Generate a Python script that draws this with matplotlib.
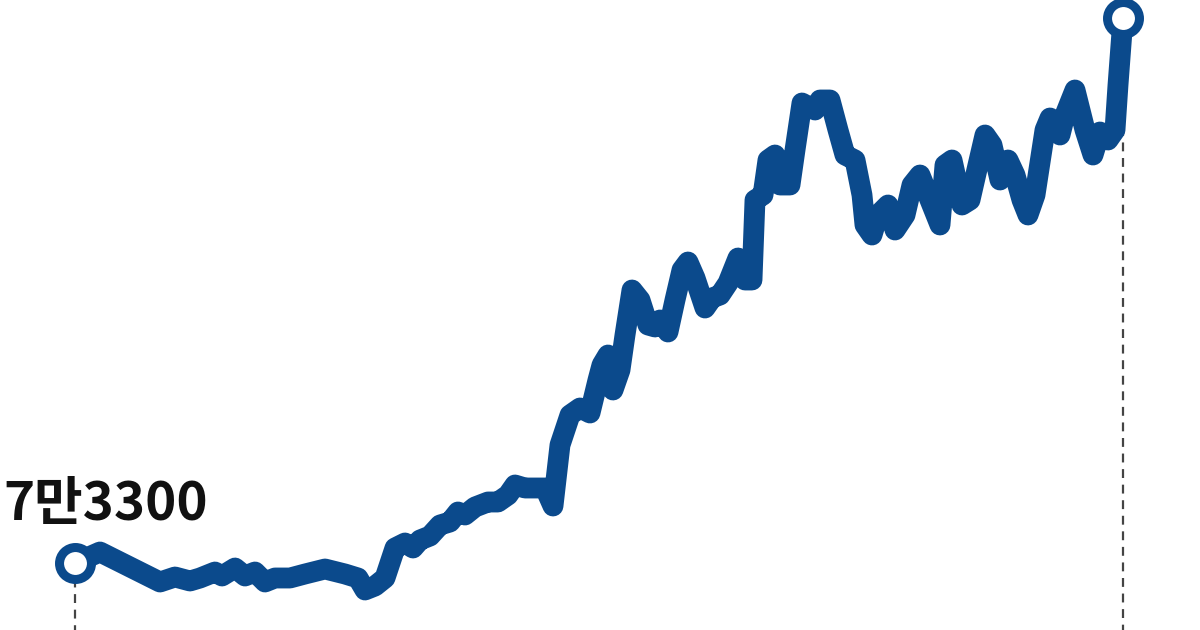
import matplotlib
matplotlib.use('Agg')
import matplotlib.pyplot as plt

plt.rcParams['font.family'] = ['Noto Sans CJK KR', 'DejaVu Sans']

# trading-day position and closing price (won)
days = [75, 100, 130, 160, 175, 190, 200, 215, 222, 235, 245, 255, 265, 275, 290,
        305, 325, 345, 358, 365, 375, 385, 395, 405, 413, 420, 430, 440, 450, 458,
        465, 475, 488, 498, 508, 515, 525, 545, 553, 560, 570, 580, 590, 598, 602,
        608, 613, 620, 625, 632, 640, 648, 655, 660, 668, 675, 682, 688, 695, 705,
        712, 720, 728, 738, 745, 752, 755, 763, 768, 775, 780, 790, 795, 802, 815,
        820, 830, 838, 845, 855, 862, 865, 872, 878, 888, 895, 905, 912, 920, 930,
        940, 945, 952, 962, 970, 978, 985, 992, 1000, 1008, 1015, 1022, 1028, 1035,
        1045, 1050, 1060, 1065, 1075, 1085, 1093, 1100, 1108, 1115, 1118, 1123]
prices = [73300, 74400, 72900, 71400, 71900, 71500, 71800, 72400, 72000, 72800,
          72000, 72400, 71400, 71800, 71800, 72200, 72700, 72200, 71800, 70600,
          71000, 71800, 74800, 75300, 74800, 75600, 76000, 77100, 77400, 78400,
          78100, 78900, 79400, 79400, 80100, 81100, 80800, 80800, 79000, 85100,
          88100, 88800, 88300, 91600, 93100, 94100, 90600, 92600, 96100, 100600,
          99600, 97100, 96900, 97600, 96400, 99600, 102600, 103400, 101800, 98800,
          99800, 100100, 101300, 103800, 101600, 101600, 109600, 110100, 113600, 114100,
          111100, 111100, 114600, 119300, 118600, 119600, 119600, 116600, 114100, 113600,
          110100, 107100, 106100, 108100, 109100, 106600, 108100, 111100, 112100, 109600,
          107100, 113100, 113600, 109100, 109600, 113100, 116100, 115100, 111600, 113600,
          112100, 109600, 108100, 110100, 116600, 117800, 116100, 118100, 120600, 116600,
          114100, 116400, 115600, 116600, 121100, 127800]
start_label = '7만3300'

blue = '#0b4a8c'

fig = plt.figure(figsize=(12, 6.3), dpi=100)
ax = fig.add_axes([0, 0, 1, 1])
ax.set_xlim(0, 1200)
ax.set_ylim(66600, 129600)
ax.axis('off')

# dashed guides under first and last points
ax.plot([days[0], days[0]], [prices[0], 66600], color='#444444', lw=1.6,
        dashes=(4, 3), zorder=1)
ax.plot([days[-1], days[-1]], [prices[-1], 66600], color='#444444', lw=1.6,
        dashes=(4, 3), zorder=1)

ax.plot(days, prices, color=blue, lw=15, solid_joinstyle='round',
        solid_capstyle='round', zorder=2)

ax.plot([days[0], days[-1]], [prices[0], prices[-1]], 'o', ms=23, mew=6.5,
        mfc='white', mec=blue, zorder=3)

ax.text(3, prices[0] + 4300, start_label, fontsize=38, fontweight='bold',
        color='#111111', ha='left', va='baseline')

fig.savefig('out.png', dpi=100)
